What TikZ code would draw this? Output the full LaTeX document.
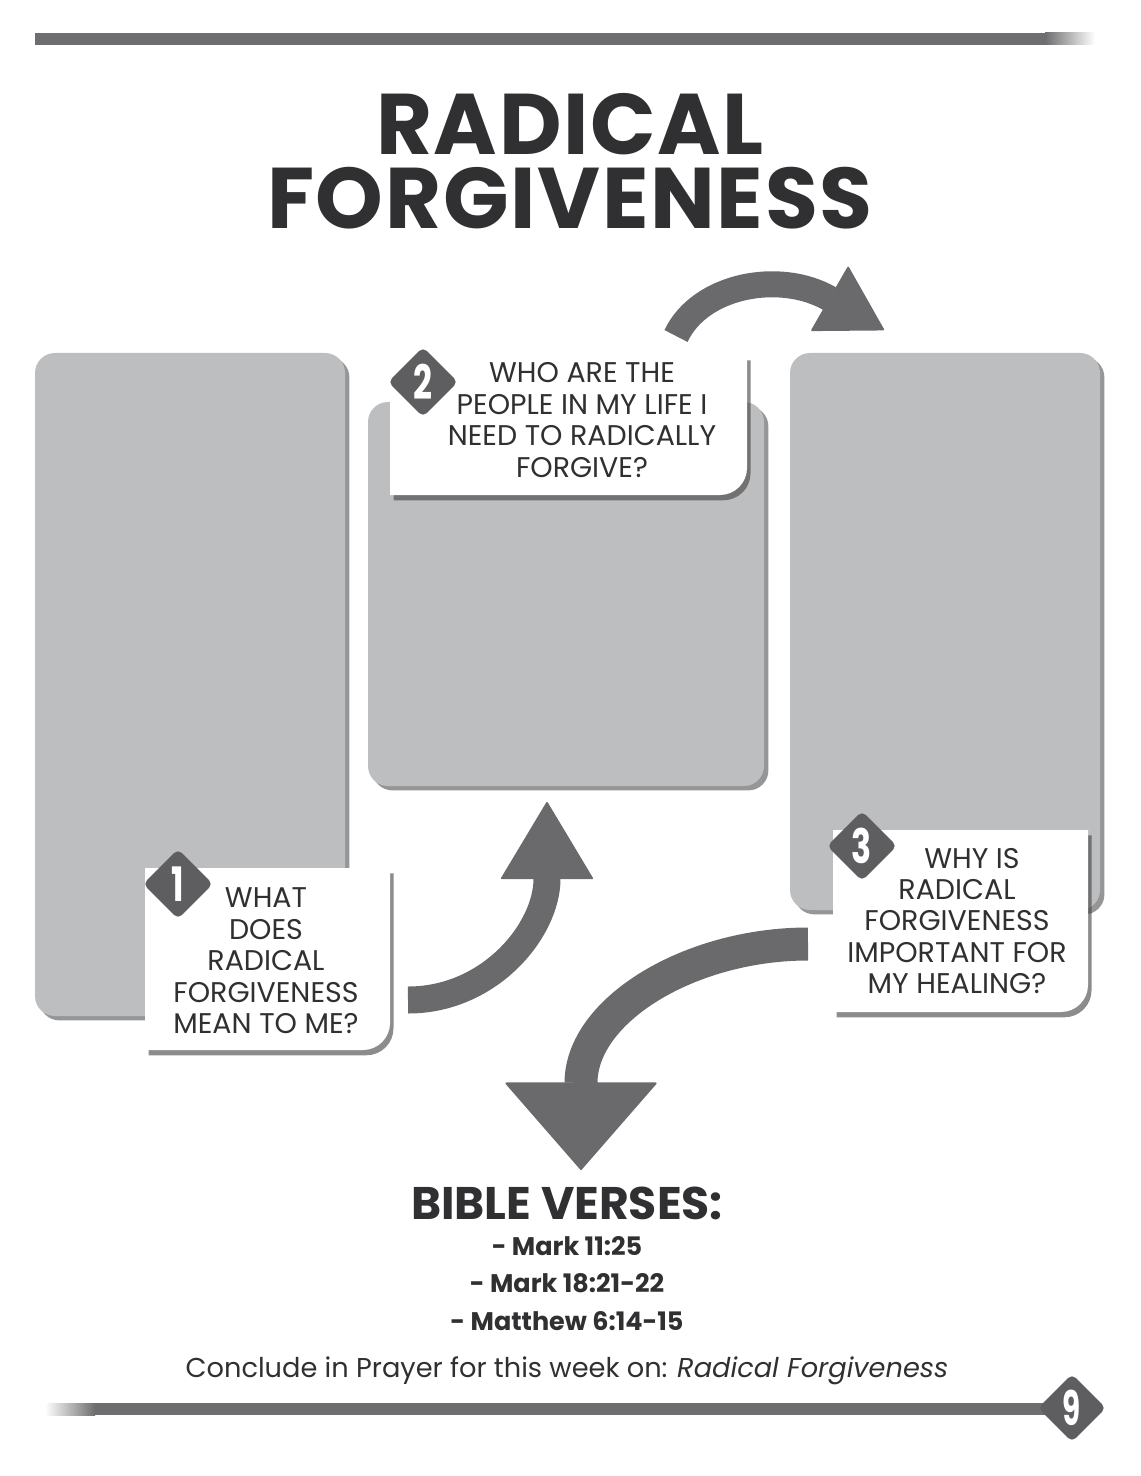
\documentclass[tikz,border=0pt]{standalone}
\usepackage{fontspec}
\setmainfont{Poppins}
\usetikzlibrary{shapes.geometric,arrows.meta,shadows}
\definecolor{bargray}{HTML}{6E6E70}
\definecolor{panelgray}{HTML}{BDBEC0}
\definecolor{arrowgray}{HTML}{6A6A6C}
\definecolor{markgray}{HTML}{5E5E60}
\definecolor{inkgray}{HTML}{303032}
\begin{document}
\begin{tikzpicture}[x=0.02cm,y=-0.02cm,
    panel/.style={fill=panelgray,rounded corners=0.4cm,drop shadow={shadow xshift=2.5pt,shadow yshift=-2.5pt,opacity=0.55,fill=black!75}},
    qbox/.style={fill=white,drop shadow={shadow xshift=2pt,shadow yshift=-3pt,opacity=0.6,fill=black!75}},
    qtext/.style={text=inkgray,align=center,inner sep=0pt,font=\fontsize{16.2}{17.9}\selectfont},
    stepmark/.style={diamond,fill=markgray,rounded corners=3pt,minimum size=1.4cm,inner sep=0pt,text=white,font=\bfseries\fontsize{27}{27}\selectfont},
    bigarrow/.style={draw=arrowgray},
    headline/.style={text=inkgray,inner sep=0pt,align=center,font=\bfseries\fontsize{49}{42}\selectfont\addfontfeature{LetterSpace=2}}]
\useasboundingbox (0,0) rectangle (1140,1476);
\fill[bargray] (35,33) rectangle (1045,45);
\shade[left color=bargray,right color=white] (1045,33) rectangle (1095,45);
\node[headline] (title) at (570,161) {RADICAL\\FORGIVENESS};
\fill[panel] (35,353) rectangle (345,1016);
\fill[panel] (368,402) rectangle (764,786);
\fill[panel] (790,353) rectangle (1100,910);
\fill[qbox] (145,868) -- (390,868) [rounded corners=0.54cm] -- (390,1050) [sharp corners] -- (145,1050) -- cycle;
\fill[qbox] (390,355) -- (747,355) [rounded corners=0.54cm] -- (747,495) [sharp corners] -- (390,495) -- cycle;
\fill[qbox] (833,830) -- (1088,830) [rounded corners=0.54cm] -- (1088,1012) [sharp corners] -- (833,1012) -- cycle;
\node[qtext] (q1) at (266,961) {WHAT\\DOES\\RADICAL\\FORGIVENESS\\MEAN TO ME?};
\node[qtext] (q2) at (582,420) {WHO ARE THE\\PEOPLE IN MY LIFE I\\NEED TO RADICALLY\\FORGIVE?};
\node[qtext] (q3) at (957,921) {\hspace*{0.6cm}WHY IS\\RADICAL\\FORGIVENESS\\IMPORTANT FOR\\MY HEALING?};
\node[stepmark] (s1) at (178,884) {\scalebox{0.7}[1]{1}};
\node[stepmark] (s2) at (423,382) {\scalebox{0.7}[1]{2}};
\node[stepmark] (s3) at (862,846) {\scalebox{0.7}[1]{3}};
\coordinate (a1) at (408,1000);
\coordinate (a2) at (547,802);
\coordinate (b1) at (676,336);
\coordinate (b2) at (884,330);
\coordinate (c1) at (808,944);
\coordinate (c2) at (581,1170);
\draw[bigarrow,line width=0.54cm,-{Triangle[length=1.56cm,width=1.86cm,line width=1pt,round]}] (a1) .. controls (490,1000) and (547,930) .. (a2);
\draw[bigarrow,line width=0.52cm,-{Triangle[length=1.28cm,width=1.5cm,line width=1pt,round]}] (b1) .. controls (700,285) and (780,270) .. (b2);
\draw[bigarrow,line width=0.66cm,-{Triangle[length=1.76cm,width=3.06cm,line width=1pt,round]}] (c1) .. controls (690,944) and (581,1010) .. (c2);
\node[text=inkgray,font=\bfseries\fontsize{26}{26}\selectfont] (verses) at (567,1203) {BIBLE VERSES:};
\node[text=inkgray,font=\bfseries\fontsize{14.5}{14.5}\selectfont] (v1) at (567,1246) {- Mark 11:25};
\node[text=inkgray,font=\bfseries\fontsize{14.5}{14.5}\selectfont] (v2) at (567,1283) {- Mark 18:21-22};
\node[text=inkgray,font=\bfseries\fontsize{14.5}{14.5}\selectfont] (v3) at (567,1321) {- Matthew 6:14-15};
\node[text=inkgray,anchor=base,font=\fontsize{15.5}{15.5}\selectfont] (prayer) at (567,1377) {Conclude in Prayer for this week on: \textit{Radical Forgiveness}};
\shade[left color=white,right color=bargray] (45,1403) rectangle (95,1415);
\fill[bargray] (95,1403) rectangle (1060,1415);
\node[stepmark,minimum size=1.36cm] (page) at (1072,1408) {\scalebox{0.62}[1]{9}};
\end{tikzpicture}
\end{document}
